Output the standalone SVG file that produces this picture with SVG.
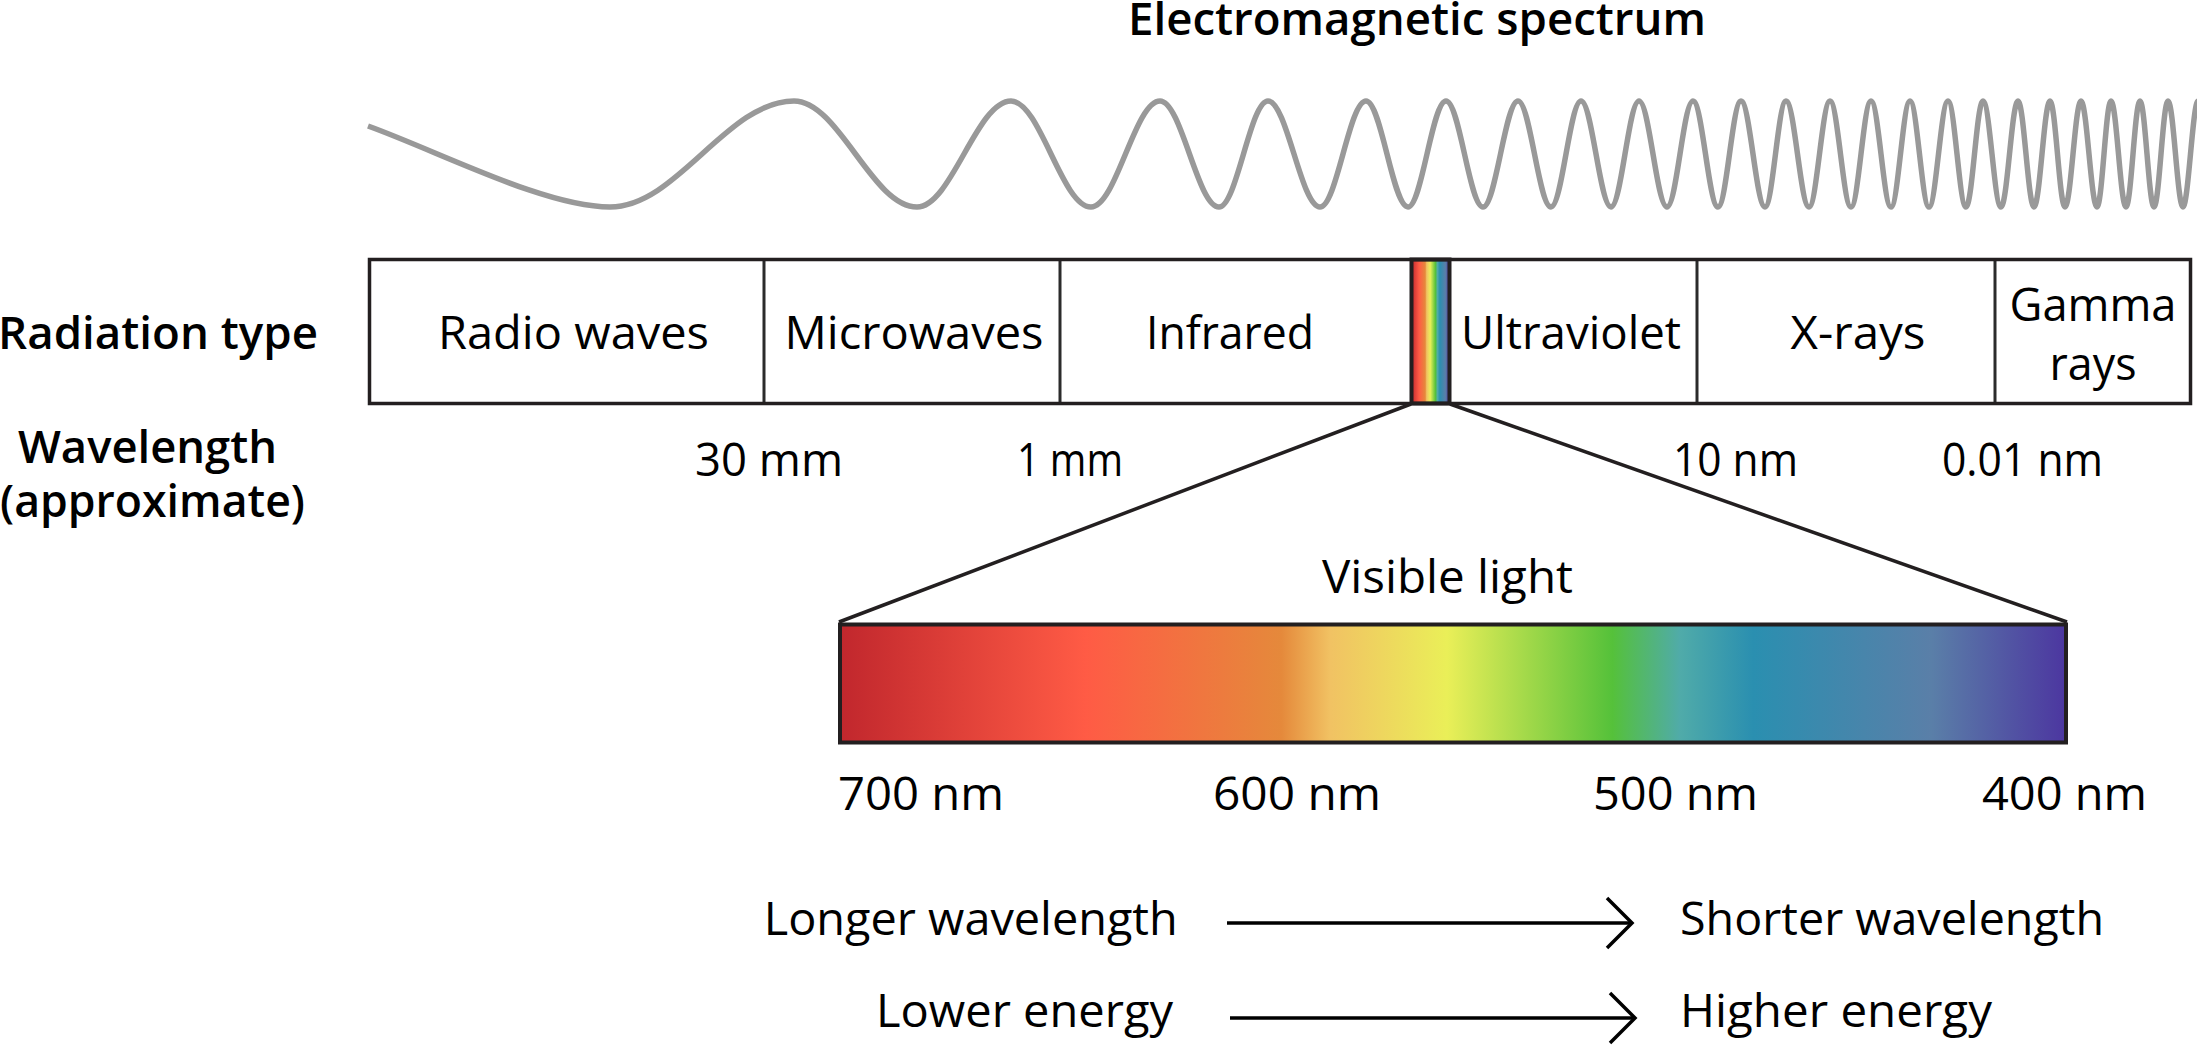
<svg xmlns="http://www.w3.org/2000/svg" width="2197" height="1048" viewBox="0 0 2197 1048">
<style>
  .t { font-family: "Open Sans", "Liberation Sans", sans-serif; font-size: 45px; fill: #000; }
  .b { font-family: "Open Sans", "Liberation Sans", sans-serif; font-size: 46px; font-weight: 600; fill: #000; }
  .c { text-anchor: middle; }
  .cell { fill: none; stroke: #2b2b2b; stroke-width: 3; }
  .frame { fill: none; stroke: #231f20; stroke-width: 3.5; }
  .conn { fill: none; stroke: #231f20; stroke-width: 3.5; }
  .arrow { fill: none; stroke: #000; stroke-width: 3.5; }
</style>
<defs>
  <linearGradient id="vis" x1="0" y1="0" x2="1" y2="0">
    <stop offset="0" stop-color="#c1272d"/>
    <stop offset="0.2" stop-color="#ff5b45"/>
    <stop offset="0.36" stop-color="#e5893b"/>
    <stop offset="0.40" stop-color="#f1c263"/>
    <stop offset="0.495" stop-color="#eaef58"/>
    <stop offset="0.63" stop-color="#55c13a"/>
    <stop offset="0.685" stop-color="#50aba9"/>
    <stop offset="0.745" stop-color="#2a8fb0"/>
    <stop offset="0.89" stop-color="#5a7fa8"/>
    <stop offset="1" stop-color="#4c36a0"/>
  </linearGradient>
  <marker id="chev" viewBox="0 0 32 56" refX="28" refY="28" markerWidth="32" markerHeight="56" markerUnits="userSpaceOnUse" orient="auto">
    <path d="M3 3 L28 28 L3 53" fill="none" stroke="#000" stroke-width="3.5"/>
  </marker>
</defs>

<g id="title">
  <text class="b c" x="1417" y="35" font-size="42" textLength="578" lengthAdjust="spacingAndGlyphs">Electromagnetic spectrum</text>
</g>

<g id="wave">
  <path fill="none" stroke="#999999" stroke-width="5.5" d="M368,126 C440,152 545,207 610,207 C677,207 727,101 794,101 C838.8,101 872.2,207 917,207 C951.2,207 976.8,101 1011,101 C1040.1,101 1061.9,207 1091,207 C1116.1,207 1134.9,101 1160,101 C1181.5,101 1197.5,207 1219,207 C1236.8,207 1250.2,101 1268,101 C1286.9,101 1301.1,207 1320,207 C1336.7,207 1349.3,101 1366,101 C1381.3,101 1392.7,207 1408,207 C1421.8,207 1432.2,101 1446,101 C1459.5,101 1469.5,207 1483,207 C1495.7,207 1505.3,101 1518,101 C1530,101 1539,207 1551,207 C1561.9,207 1570.1,101 1581,101 C1591.9,101 1600.1,207 1611,207 C1621.2,207 1628.8,101 1639,101 C1649.2,101 1656.8,207 1667,207 C1676.5,207 1683.5,101 1693,101 C1702.1,101 1708.9,207 1718,207 C1726.4,207 1732.6,101 1741,101 C1749.7,101 1756.3,207 1765,207 C1772.6,207 1778.4,101 1786,101 C1794.4,101 1800.6,207 1809,207 C1816.6,207 1822.4,101 1830,101 C1837.6,101 1843.4,207 1851,207 C1858.3,207 1863.7,101 1871,101 C1878.3,101 1883.7,207 1891,207 C1897.9,207 1903.1,101 1910,101 C1916.9,101 1922.1,207 1929,207 C1935.9,207 1941.1,101 1948,101 C1954.6,101 1959.4,207 1966,207 C1972.2,207 1976.8,101 1983,101 C1989.6,101 1994.4,207 2001,207 C2007.2,207 2011.8,101 2018,101 C2023.8,101 2028.2,207 2034,207 C2039.8,207 2044.2,101 2050,101 C2055.5,101 2059.5,207 2065,207 C2070.8,207 2075.2,101 2081,101 C2086.8,101 2091.2,207 2097,207 C2102.1,207 2105.9,101 2111,101 C2116.5,101 2120.5,207 2126,207 C2131.1,207 2134.9,101 2140,101 C2145.1,101 2148.9,207 2154,207 C2159.1,207 2162.9,101 2168,101 C2173.5,101 2177.5,207 2183,207 C2188.1,207 2192.9,101 2198,101"/>
</g>

<g id="row-labels">
  <text class="b" x="-2" y="349" textLength="320" lengthAdjust="spacingAndGlyphs">Radiation type</text>
  <text class="b c" x="147.5" y="463" textLength="259" lengthAdjust="spacingAndGlyphs">Wavelength</text>
  <text class="b c" x="152.5" y="517" textLength="305" lengthAdjust="spacingAndGlyphs">(approximate)</text>
</g>

<g id="spectrum-box">
  <g id="cell-radio">
    <text class="t c" x="573.5" y="349" font-size="46" textLength="271" lengthAdjust="spacingAndGlyphs">Radio waves</text>
  </g>
  <g id="cell-microwaves">
    <line class="cell" x1="764" y1="259" x2="764" y2="404"/>
    <text class="t c" x="914" y="349" font-size="46" textLength="259" lengthAdjust="spacingAndGlyphs">Microwaves</text>
  </g>
  <g id="cell-infrared">
    <line class="cell" x1="1060" y1="259" x2="1060" y2="404"/>
    <text class="t c" x="1230" y="349" font-size="46" textLength="168" lengthAdjust="spacingAndGlyphs">Infrared</text>
  </g>
  <g id="cell-visible">
    <rect x="1411.5" y="259.5" width="38" height="144" fill="url(#vis)" stroke="#231f20" stroke-width="4"/>
  </g>
  <g id="cell-ultraviolet">
    <text class="t c" x="1571" y="349" font-size="46" textLength="220" lengthAdjust="spacingAndGlyphs">Ultraviolet</text>
  </g>
  <g id="cell-xrays">
    <line class="cell" x1="1697" y1="259" x2="1697" y2="404"/>
    <text class="t c" x="1858" y="349" font-size="46" textLength="135" lengthAdjust="spacingAndGlyphs">X-rays</text>
  </g>
  <g id="cell-gamma">
    <line class="cell" x1="1995" y1="259" x2="1995" y2="404"/>
    <text class="t c" x="2093" y="321" font-size="46" textLength="167" lengthAdjust="spacingAndGlyphs">Gamma</text>
    <text class="t c" x="2093" y="380" font-size="46" textLength="87" lengthAdjust="spacingAndGlyphs">rays</text>
  </g>
  <rect class="frame" x="369.5" y="259.5" width="1821" height="144"/>
</g>

<g id="wavelength-labels">
  <text class="t c" x="769" y="476" textLength="148" lengthAdjust="spacingAndGlyphs">30 mm</text>
  <text class="t c" x="1070" y="476" textLength="106" lengthAdjust="spacingAndGlyphs">1 mm</text>
  <text class="t c" x="1735.5" y="476" textLength="125" lengthAdjust="spacingAndGlyphs">10 nm</text>
  <text class="t c" x="2022.5" y="476" textLength="161" lengthAdjust="spacingAndGlyphs">0.01 nm</text>
</g>

<g id="visible-light">
  <text class="t c" x="1447.5" y="593" textLength="251" lengthAdjust="spacingAndGlyphs">Visible light</text>
  <rect x="840" y="624.5" width="1226" height="118" fill="url(#vis)" stroke="#231f20" stroke-width="4"/>
  <text class="t c" x="921" y="810" textLength="166" lengthAdjust="spacingAndGlyphs">700 nm</text>
  <text class="t c" x="1297" y="810" textLength="168" lengthAdjust="spacingAndGlyphs">600 nm</text>
  <text class="t c" x="1675.5" y="810" textLength="165" lengthAdjust="spacingAndGlyphs">500 nm</text>
  <text class="t c" x="2064.5" y="810" textLength="165" lengthAdjust="spacingAndGlyphs">400 nm</text>
</g>

<g id="legend">
  <text class="t c" x="970.75" y="935" textLength="414" lengthAdjust="spacingAndGlyphs">Longer wavelength</text>
  <text class="t c" x="1892" y="935" textLength="424" lengthAdjust="spacingAndGlyphs">Shorter wavelength</text>
  <text class="t c" x="1024.5" y="1027" textLength="297" lengthAdjust="spacingAndGlyphs">Lower energy</text>
  <text class="t c" x="1836" y="1027" textLength="312" lengthAdjust="spacingAndGlyphs">Higher energy</text>
</g>

<g id="connectors">
  <line class="conn" x1="1411" y1="404" x2="839" y2="622"/>
  <line class="conn" x1="1450" y1="404" x2="2067" y2="622"/>
  <line class="arrow" x1="1227" y1="923" x2="1632" y2="923" marker-end="url(#chev)"/>
  <line class="arrow" x1="1230" y1="1018" x2="1635" y2="1018" marker-end="url(#chev)"/>
</g>
</svg>
